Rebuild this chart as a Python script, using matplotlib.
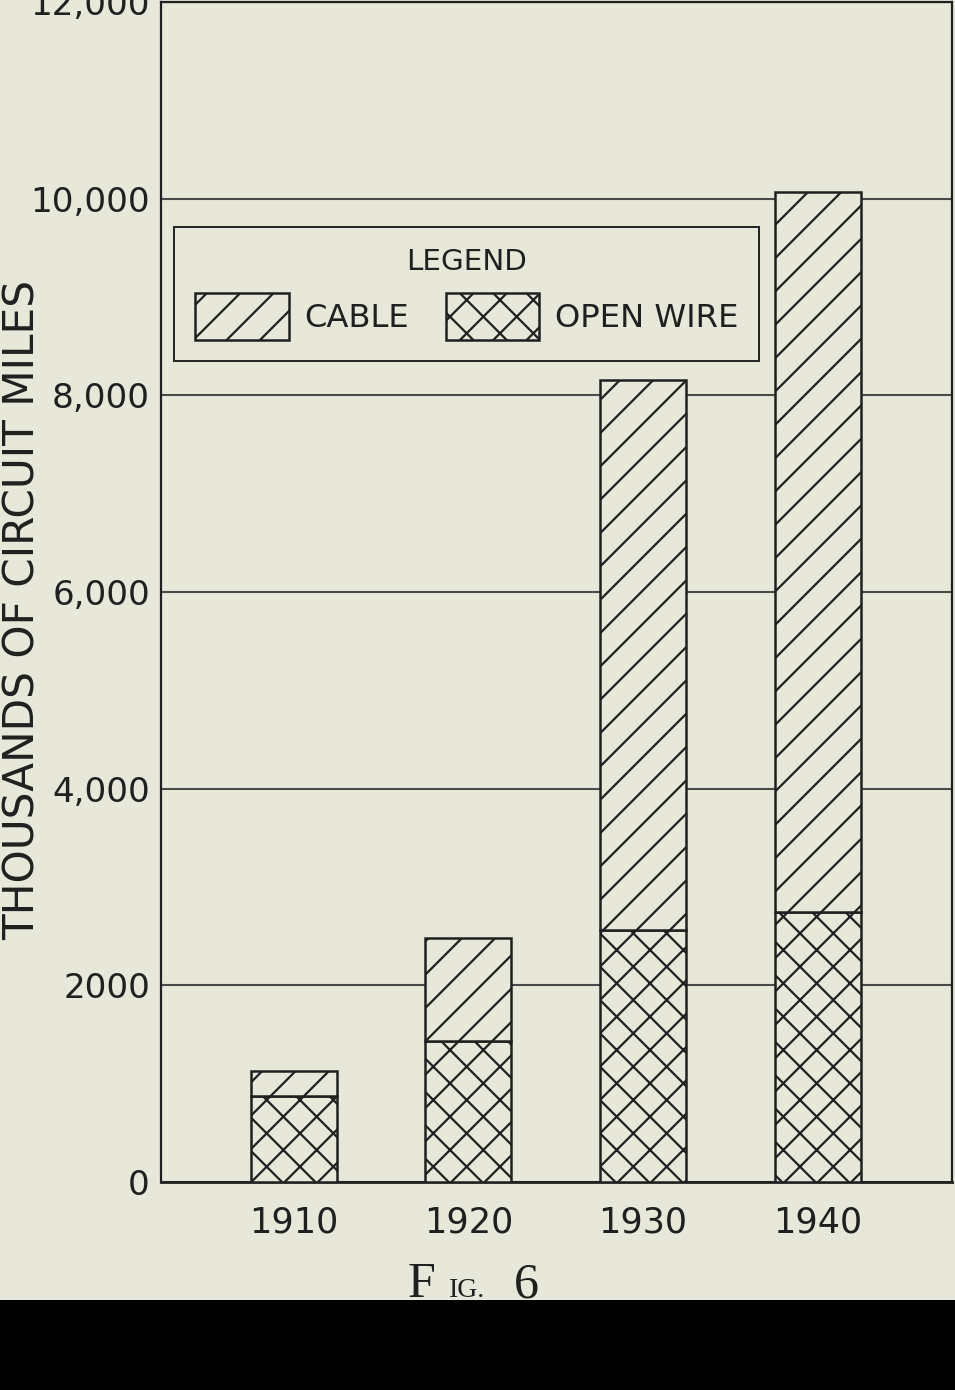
import matplotlib
matplotlib.use("Agg")
import matplotlib.pyplot as plt
from matplotlib.patches import Rectangle

# ---- data (thousands of circuit miles) ----
years = ["1910", "1920", "1930", "1940"]
open_wire = [870, 1430, 2560, 2750]
cable = [260, 1050, 5600, 7320]
y_ticks = [0, 2000, 4000, 6000, 8000, 10000, 12000]
y_tick_labels = ["0", "2000", "4,000", "6,000", "8,000", "10,000", "12,000"]
legend_labels = ["CABLE", "OPEN WIRE"]

W, H, DPI = 955, 1390, 200
BG = "#e7e7da"
INK = "#202020"

plt.rcParams["font.family"] = ["DejaVu Sans"]
plt.rcParams["hatch.linewidth"] = 0.8
plt.rcParams["hatch.color"] = INK

fig = plt.figure(figsize=(W / DPI, H / DPI), dpi=DPI, facecolor=BG)

def fx(px):
    return px / W

def fy(py):
    return 1 - py / H

ax_left, ax_right, ax_top, ax_bot = 161, 952, 2, 1182
ax = fig.add_axes([fx(ax_left), fy(ax_bot), (ax_right - ax_left) / W, (ax_bot - ax_top) / H])
ax.set_facecolor(BG)

x = list(range(len(years)))
bw = 0.493
b1 = ax.bar(x, open_wire, width=bw, facecolor=BG, edgecolor=INK, linewidth=0.9,
            hatch="xx", label=legend_labels[1], zorder=3)
b2 = ax.bar(x, cable, bottom=open_wire, width=bw, facecolor=BG, edgecolor=INK,
            linewidth=0.9, hatch="//", label=legend_labels[0], zorder=3)

ax.set_xlim(-0.759, 3.768)
ax.set_ylim(0, 12000)
ax.set_yticks(y_ticks)
ax.set_yticklabels(y_tick_labels)
ax.set_xticks(x)
ax.set_xticklabels(years)
ax.tick_params(axis="y", length=0, pad=4.0, labelsize=12.3, labelcolor=INK)
ax.tick_params(axis="x", length=0, pad=8.3, labelsize=12.6, labelcolor=INK)

ax.yaxis.grid(True, color="#4a4a4a", linewidth=0.75)
ax.set_axisbelow(True)
for s in ax.spines.values():
    s.set_color(INK)
    s.set_linewidth(0.8)
ax.spines["bottom"].set_linewidth(1.0)

ax.set_ylabel("THOUSANDS OF CIRCUIT MILES", fontsize=15.2, color=INK)
ax.yaxis.set_label_coords(-0.149, 0.485)

leg = ax.legend([b2, b1], legend_labels, ncol=2, title="LEGEND",
                loc="upper left", bbox_to_anchor=(0.017, 0.8096),
                borderaxespad=0.0,
                fontsize=11.6, title_fontsize=10.6,
                handlelength=2.89, handleheight=1.83, handletextpad=0.5,
                columnspacing=1.13, borderpad=0.65, labelspacing=0.55,
                frameon=True,
                fancybox=False, framealpha=1.0, facecolor=BG, edgecolor=INK,
                labelcolor=INK)
leg.get_frame().set_linewidth(0.7)
leg.get_title().set_color(INK)

# caption
fig.text(fx(408), fy(1297), "F", family="Liberation Serif", fontsize=18,
         color=INK, ha="left", va="baseline")
fig.text(fx(449), fy(1297), "IG.", family="Liberation Serif", fontsize=10,
         color=INK, ha="left", va="baseline")
fig.text(fx(514), fy(1297), "6", family="Liberation Serif", fontsize=18,
         color=INK, ha="left", va="baseline")

# dark band at the bottom of the scan
fig.patches.append(Rectangle((0, 0), 1, 90 / H, transform=fig.transFigure,
                             facecolor="black", edgecolor="none", zorder=0))

fig.savefig("out.png", dpi=DPI, facecolor=BG)
